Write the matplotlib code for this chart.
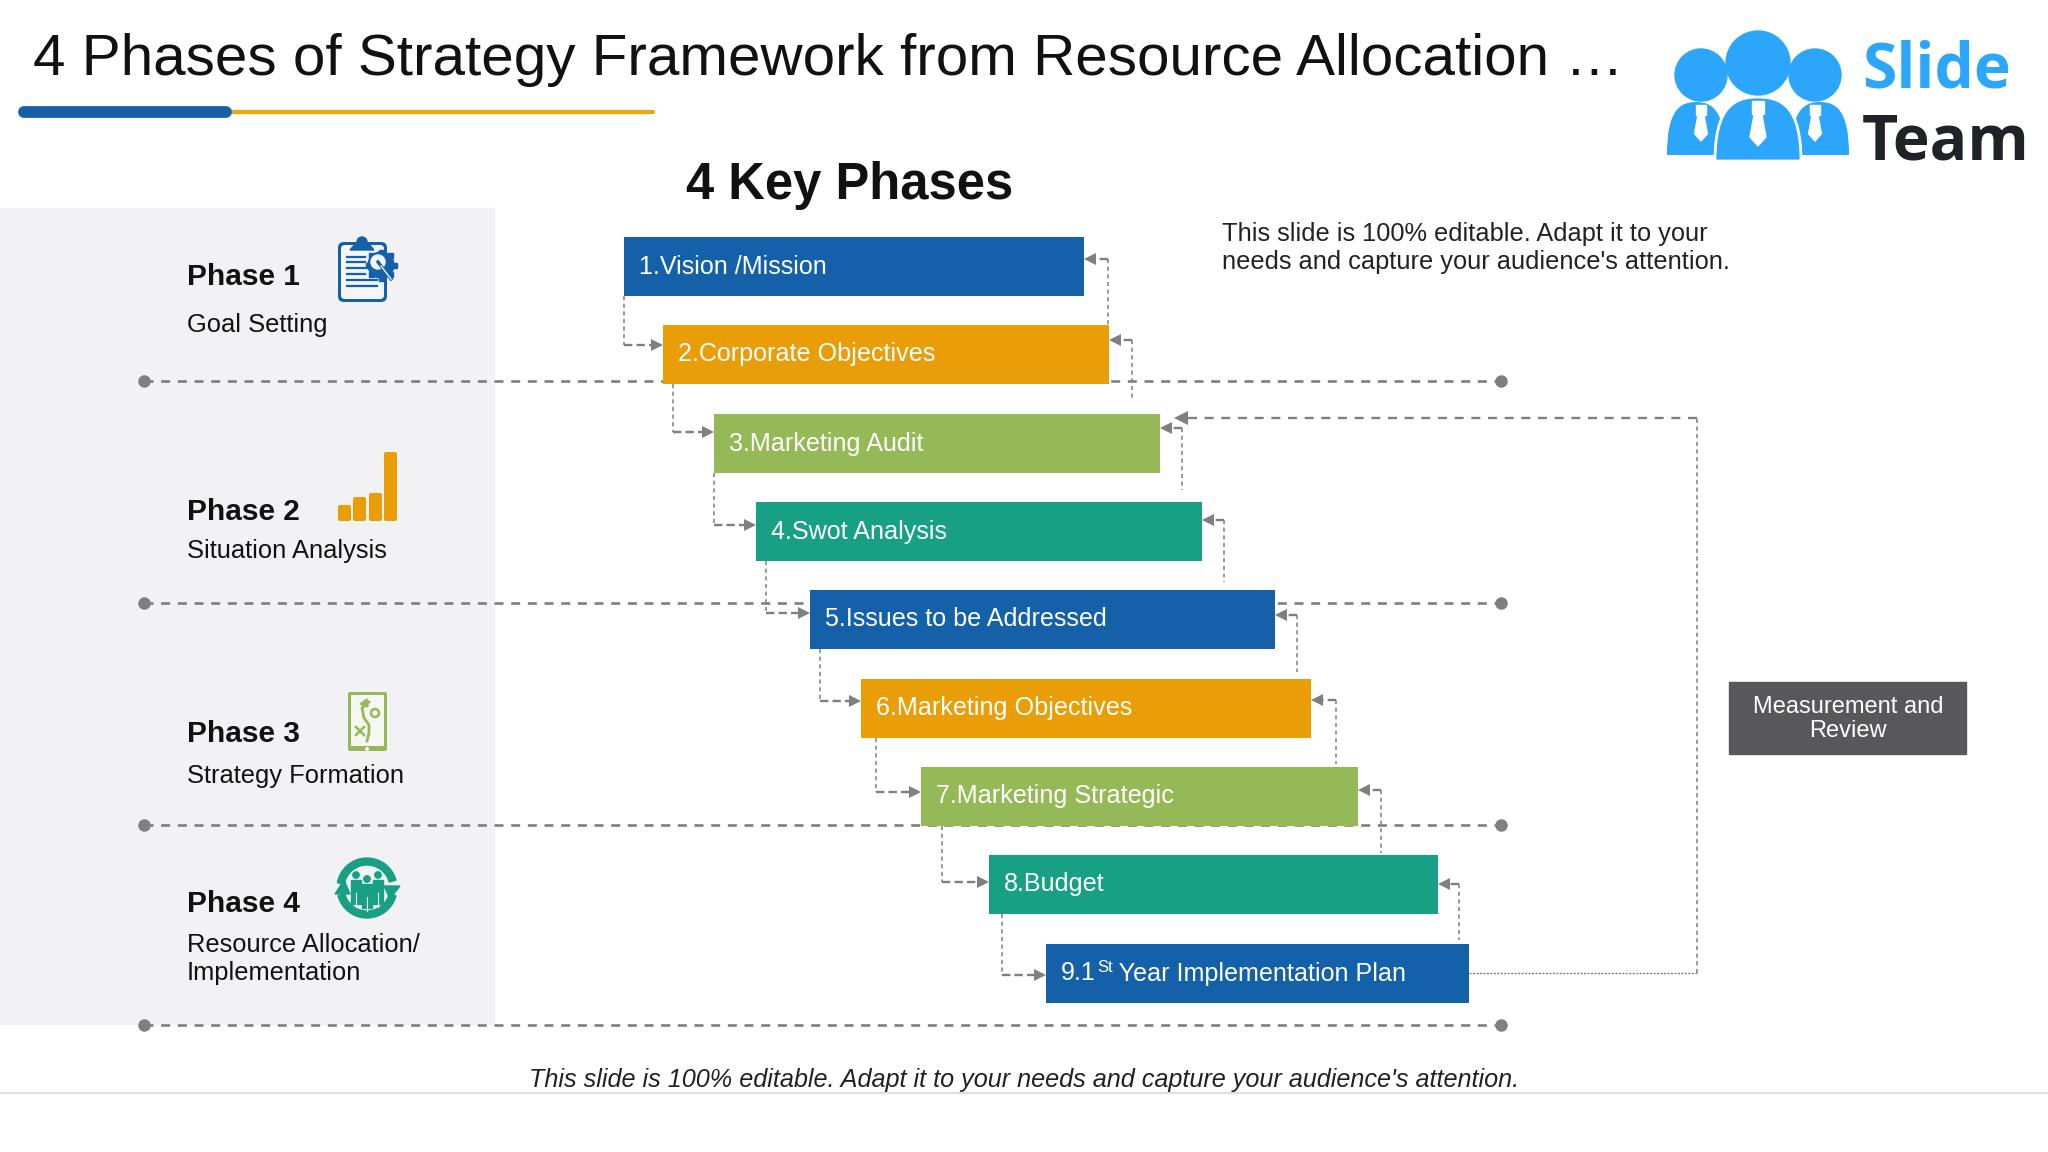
import numpy as np
import matplotlib
matplotlib.use('Agg')
import matplotlib.pyplot as plt
from matplotlib.patches import Rectangle, FancyBboxPatch, Circle, Wedge, Polygon, PathPatch
from matplotlib.path import Path

plt.rcParams['font.family'] = ['Liberation Sans', 'DejaVu Sans']
plt.rcParams['lines.scale_dashes'] = False

# Data
title = '4 Phases of Strategy Framework from Resource Allocation \u2026'
heading = '4 Key Phases'
note = "This slide is 100% editable. Adapt it to your\nneeds and capture your audience's attention."
footer = "This slide is 100% editable. Adapt it to your needs and capture your audience's attention."
review_label = 'Measurement and\nReview'

phase_names = ['Phase 1', 'Phase 2', 'Phase 3', 'Phase 4']
phase_subs = ['Goal Setting', 'Situation Analysis', 'Strategy Formation',
              'Resource Allocation/\nImplementation']
phase_name_y = [277, 512, 734, 904]
phase_sub_y = [325, 551, 776, 959]
phase_line_y = [381, 603, 825, 1025]

step_labels = ['1.Vision /Mission', '2.Corporate Objectives', '3.Marketing Audit',
               '4.Swot Analysis', '5.Issues to be Addressed', '6.Marketing Objectives',
               '7.Marketing Strategic', '8.Budget', '9.1']
step_left = [624, 663, 714, 756, 810, 861, 921, 989, 1046]
step_right = [1084, 1109, 1160, 1202, 1275, 1311, 1358, 1438, 1469]
step_top = [237, 325, 414, 502, 590, 679, 767, 855, 944]
step_colors = ['#1460a9', '#e99e07', '#95b956', '#18a084']

# elbow from the bottom of one step into the left side of the next
elbow_left_x = [624, 673, 714, 766, 820, 876, 942, 1002]
elbow_left_y = [345, 432, 525, 613, 701, 792, 882, 975]
# elbow from the top of the next step back to the right side of this one
elbow_right_x = [1108, 1132, 1182, 1224, 1297, 1336, 1381, 1459]
elbow_right_y = [259, 340, 428, 520, 615, 700, 790, 884]
elbow_right_end = [325, 401, 490, 582, 672, 764, 853, 940]

GREY = '#7f7f7f'
DASH = (0, (6.5, 5.5))
FINE = (0, (3, 2.5))
BLUE = '#1460a9'
ORANGE = '#e99e07'
GREEN = '#95b956'
TEAL = '#18a084'
LOGO = '#2ba6fb'

fig = plt.figure(figsize=(20.48, 11.52), dpi=100)
ax = fig.add_axes([0, 0, 1, 1])
ax.set_xlim(0, 2048)
ax.set_ylim(1152, 0)
ax.axis('off')


def rrect(x0, y0, x1, y1, r, **kw):
    p = FancyBboxPatch((x0 + r, y0 + r), x1 - x0 - 2 * r, y1 - y0 - 2 * r,
                       boxstyle='round,pad=%g,rounding_size=%g' % (r, r), linewidth=0, **kw)
    ax.add_patch(p)
    return p


def dome(cx, half, top, bottom, color, edge=None, z=5):
    verts = [(cx - half, bottom), (cx - half, top + (bottom - top) * 0.15),
             (cx - half * 0.55, top), (cx, top), (cx + half * 0.55, top),
             (cx + half, top + (bottom - top) * 0.15), (cx + half, bottom), (cx - half, bottom)]
    codes = [Path.MOVETO, Path.CURVE4, Path.CURVE4, Path.CURVE4, Path.CURVE4, Path.CURVE4,
             Path.CURVE4, Path.CLOSEPOLY]
    ax.add_patch(PathPatch(Path(verts, codes), facecolor=color, edgecolor=edge or 'none',
                           linewidth=2 if edge else 0, joinstyle='round', zorder=z))


def tie(cx, top, scale, z):
    ax.add_patch(Rectangle((cx - 6 * scale, top), 12 * scale, 13 * scale, color='white', zorder=z))
    ax.add_patch(Polygon([(cx - 4 * scale, top + 14 * scale), (cx + 4 * scale, top + 14 * scale),
                          (cx + 8 * scale, top + 36 * scale), (cx, top + 45 * scale),
                          (cx - 8 * scale, top + 36 * scale)], color='white', zorder=z))


# grey panel and footer rule
ax.add_patch(Rectangle((0, 208), 494, 816, color='#f2f2f4', zorder=0))
ax.plot([0, 2048], [1093, 1093], color='#d9d9d9', lw=1.2, zorder=1)

# title
ax.text(33, 60, title, fontsize=42, color='#111111', va='center', ha='left')
ax.plot([231, 653], [112, 112], color='#eba50f', lw=3, zorder=2, solid_capstyle='round')
ax.plot([24, 226], [112, 112], color=BLUE, lw=8.5, zorder=3, solid_capstyle='round')

# logo
dome(1696, 29, 102, 155, LOGO, z=3)
dome(1820, 29, 102, 155, LOGO, z=3)
ax.add_patch(Circle((1701, 75), 26, color=LOGO, zorder=4))
ax.add_patch(Circle((1815, 75), 26, color=LOGO, zorder=4))
dome(1758, 43, 97, 161, LOGO, edge='white', z=5)
ax.add_patch(Circle((1758, 63), 32, color=LOGO, zorder=6))
tie(1701, 105, 0.8, 6)
tie(1815, 105, 0.8, 6)
tie(1758, 101, 1.0, 7)
ax.text(1862, 87, 'Slide', fontsize=45, fontweight='bold', family='Open Sans', color=LOGO, va='baseline')
ax.text(1862, 160, 'Team', fontsize=45, fontweight='bold', family='Open Sans', color='#1f2328', va='baseline')

# headings
ax.text(850, 185, heading, fontsize=36.5, fontweight='bold', color='#111111', ha='center', va='center')
ax.text(1222, 248, note, fontsize=18.3, color='#222222', va='center', linespacing=1.17)
ax.text(1024, 1080, footer, fontsize=18.2, style='italic', color='#222222', ha='center', va='center')

# phase labels
for name, sub, ny, sy in zip(phase_names, phase_subs, phase_name_y, phase_sub_y):
    ax.text(187, ny, name, fontsize=21.5, fontweight='bold', color='#111111', va='center')
    ax.text(187, sy, sub, fontsize=18.4, color='#111111', va='center', linespacing=1.17)

# phase separators
for y in phase_line_y:
    ax.plot([144, 1501], [y, y], color=GREY, lw=1.9, ls=DASH, zorder=2)
    ax.plot([144, 1501], [y, y], 'o', color=GREY, ms=9, zorder=3, mew=0)

# connectors
bar_h = 59
for i in range(8):
    lx, ly = elbow_left_x[i], elbow_left_y[i]
    ax.plot([lx, lx], [step_top[i] + bar_h, ly], color=GREY, lw=1.1, ls=FINE, zorder=3)
    ax.plot([lx, step_left[i + 1] - 6], [ly, ly], color=GREY, lw=1.7, ls=(0, (6, 3)), zorder=3)
    ax.plot(step_left[i + 1] - 6, ly, '>', color=GREY, ms=8.5, mew=0, zorder=4)
    rx, ry = elbow_right_x[i], elbow_right_y[i]
    ax.plot([rx, rx], [ry, elbow_right_end[i]], color=GREY, lw=1.1, ls=FINE, zorder=3)
    ax.plot([rx, step_right[i] + 6], [ry, ry], color=GREY, lw=1.7, ls=(0, (6, 3)), zorder=3)
    ax.plot(step_right[i] + 6, ry, '<', color=GREY, ms=8.5, mew=0, zorder=4)

# feedback loop to step 3
ax.plot([step_right[8], 1697], [973, 973], color=GREY, lw=1.0, ls=(0, (1.5, 1)), zorder=3)
ax.plot([1697, 1697], [973, 418], color=GREY, lw=1.1, ls=FINE, zorder=3)
ax.plot([1697, 1181], [418, 418], color=GREY, lw=1.7, ls=DASH, zorder=3)
ax.plot(1181, 418, '<', color=GREY, ms=10, mew=0, zorder=4)

# steps
for i, label in enumerate(step_labels):
    color = step_colors[i % 4]
    ax.barh(step_top[i] + bar_h / 2, step_right[i] - step_left[i], height=bar_h,
            left=step_left[i], color=color, linewidth=0, zorder=5)
    t = ax.text(step_left[i] + 15, step_top[i] + bar_h / 2, label, fontsize=18.1,
                color='white', va='center', zorder=6)

# superscript on the last step
fig.canvas.draw()
renderer = fig.canvas.get_renderer()
end = t.get_window_extent(renderer).x1
sup = ax.text(end + 1, step_top[8] + bar_h / 2 - 6, 'St', fontsize=12, color='white', va='center', zorder=6)
end2 = sup.get_window_extent(renderer).x1
ax.text(end2, step_top[8] + bar_h / 2, ' Year Implementation Plan', fontsize=18.1, color='white',
        va='center', zorder=6)

# review box
ax.add_patch(Rectangle((1729, 682), 237, 72, color='#58585a', zorder=5))
ax.text(1848, 719, review_label, fontsize=17, color='white', ha='center', va='center',
        zorder=6, linespacing=1.17)

# icon 1: clipboard with gear
rrect(338, 242, 387, 302, 6, facecolor=BLUE)
rrect(341, 245, 384, 299, 4, facecolor='#f4f6fa', zorder=3)
ax.add_patch(Polygon([(350, 250), (374, 250), (368, 243), (356, 243)], color=BLUE, zorder=4))
ax.add_patch(Circle((362, 242), 5, color=BLUE, zorder=4))
for yy in [257, 262, 268, 274, 280, 286]:
    ax.plot([347, 377 if yy > 278 else 365], [yy, yy], color=BLUE, lw=1.6, zorder=4)
for a in np.arange(0, 360, 45):
    ax.add_patch(Rectangle((381 + 13 * np.cos(np.radians(a)) - 2.5, 265 + 13 * np.sin(np.radians(a)) - 2.5),
                           5, 5, color=BLUE, zorder=5))
ax.add_patch(Circle((381, 265), 13, color=BLUE, zorder=5))
ax.add_patch(Circle((378, 262), 7, color='#f4f6fa', zorder=6))
ax.plot([378, 391], [262, 279], color=BLUE, lw=2.4, zorder=7)
ax.plot([381, 391], [266, 279], color='#f4f6fa', lw=1.0, zorder=8)

# icon 2: bars
for x0, x1, top in zip([338, 353, 369, 384], [351, 366, 382, 397], [505, 497, 493, 452]):
    rrect(x0, top, x1, 521, 2, facecolor=ORANGE, zorder=4)

# icon 3: tablet with play
rrect(348, 692, 387, 751, 2, facecolor=GREEN)
rrect(351, 695, 384, 746, 1, facecolor='#f5f7f0', zorder=3)
ax.add_patch(Circle((367, 749), 1.2, color='white', zorder=4))
ax.add_patch(Circle((375, 713), 4, facecolor='none', edgecolor=GREEN, lw=1.8, zorder=4))
s = np.array([0, 0.2, 0.4, 0.6, 0.8, 1.0])
ax.plot([369, 362, 364, 369, 369, 367], [702, 708, 718, 725, 733, 741], color=GREEN, lw=2, zorder=4)
ax.add_patch(Polygon([(367, 699), (360, 704), (368, 707)], color=GREEN, zorder=4))
ax.plot([356, 364], [727, 735], color=GREEN, lw=1.8, zorder=4)
ax.plot([356, 364], [735, 727], color=GREEN, lw=1.8, zorder=4)

# icon 4: people inside circular arrows
ax.add_patch(Wedge((367, 888), 30, 190, 345, width=7, color=TEAL, zorder=4))
ax.add_patch(Wedge((367, 888), 30, 15, 165, width=7, color=TEAL, zorder=4))
ax.add_patch(Polygon([(384, 886), (400, 886), (390, 899)], color=TEAL, zorder=4))
ax.add_patch(Polygon([(335, 894), (350, 894), (344, 880)], color=TEAL, zorder=4))
for cx, h in zip([356, 367, 378], [0, 4, 0]):
    ax.add_patch(Circle((cx, 875 + h), 3.2, color=TEAL, zorder=5))
    ax.add_patch(Rectangle((cx - 5, 880 + h), 10, 24, color=TEAL, zorder=5))
    ax.plot([cx, cx], [893 + h, 907 + h], color='#f2f2f4', lw=0.8, zorder=6)

fig.savefig('out.png', dpi=100, facecolor='white')
